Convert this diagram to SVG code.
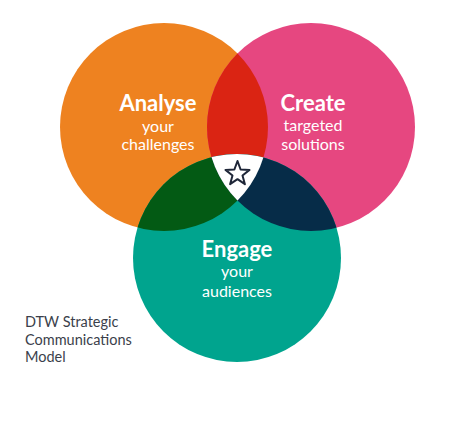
<svg xmlns="http://www.w3.org/2000/svg" width="474" height="427" viewBox="0 0 474 427">
<defs>
<style>
.t{font-family:Lato,"Open Sans","Liberation Sans",sans-serif;fill:#fff;text-anchor:middle}
.h{font-weight:bold;font-size:22px}
.s{font-size:16px}
.cap{font-family:Lato,"Open Sans","Liberation Sans",sans-serif;font-size:14.5px;fill:#3b3f4b}
</style>
<clipPath id="cO"><circle cx="164" cy="127" r="104"/></clipPath>
<clipPath id="cP"><circle cx="311" cy="127" r="104"/></clipPath>
<clipPath id="cT"><circle cx="237" cy="258" r="104"/></clipPath>
</defs>
<rect width="474" height="427" fill="#fff"/>
<g id="analyse">
<circle cx="164" cy="127" r="104" fill="#EE8220"/>
</g>
<g id="create">
<circle cx="311" cy="127" r="104" fill="#E64780"/>
</g>
<g id="engage">
<circle cx="237" cy="258" r="104" fill="#00A48E"/>
</g>
<g id="overlaps">
<circle cx="311" cy="127" r="104" fill="#DA2413" clip-path="url(#cO)"/>
<circle cx="237" cy="258" r="104" fill="#035A14" clip-path="url(#cO)"/>
<circle cx="237" cy="258" r="104" fill="#062C48" clip-path="url(#cP)"/>
<g clip-path="url(#cO)"><g clip-path="url(#cP)"><circle cx="237" cy="258" r="104" fill="#fff"/></g></g>
</g>
<g id="star">
<polygon points="237.5,161 240.6,169.5 249.5,169.9 242.5,175.5 244.9,184.2 237.5,179.2 230.1,184.2 232.5,175.5 225.5,169.9 234.4,169.5" fill="none" stroke="#1E2638" stroke-width="2" stroke-linejoin="round"/>
</g>
<g id="labels">
<text class="t h" x="158" y="111">Analyse</text>
<text class="t s" x="158" y="132">your</text>
<text class="t s" x="158" y="150">challenges</text>
<text class="t h" x="313" y="111">Create</text>
<text class="t s" x="313" y="131">targeted</text>
<text class="t s" x="313" y="150">solutions</text>
<text class="t h" x="237" y="257">Engage</text>
<text class="t s" x="237" y="277">your</text>
<text class="t s" x="237" y="297">audiences</text>
</g>
<g id="caption">
<text class="cap" x="25" y="327">DTW Strategic</text>
<text class="cap" x="25" y="345">Communications</text>
<text class="cap" x="25" y="362">Model</text>
</g>
</svg>
